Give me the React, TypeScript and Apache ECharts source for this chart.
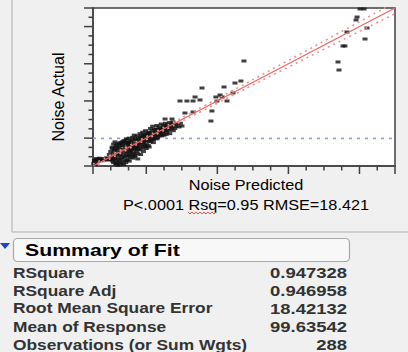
import React, { useEffect, useRef } from "react";
import * as echarts from "echarts";

// ---- axis scale (same for predicted and actual) ----
const axisMin = 62.5;
const axisMax = 275;
const minorTicks = [75, 87.5, 112.5, 125, 137.5, 162.5, 175, 187.5, 212.5, 225, 237.5, 262.5];
const majorTicks = [62.5, 100, 150, 200, 250, 275];

// ---- observations: [predicted, actual] ----
const clusterPoints: number[][] = [
  [63, 66], [64, 64.5], [63.5, 70], [64.5, 71], [65.5, 70.5], [66.5, 71.5], [67.5, 71], [68.5, 72],
  [69.5, 71], [70.5, 72.5], [71.5, 71.5], [72.5, 72], [73.5, 70.5], [74.5, 72], [75.5, 71], [76.5, 73],
  [64, 68.5], [66, 69], [68, 69.5], [70, 70], [72, 73.5], [67, 73], [65, 72.5],
  [74, 78], [75, 82], [75.5, 74], [76, 86], [76.5, 69], [77, 80], [77.5, 76], [78, 84], [78, 72],
  [78.5, 88], [79, 66], [79.5, 79], [80, 74], [80, 83], [80.5, 68], [81, 87], [81.5, 77], [82, 65],
  [82, 81], [82.5, 72], [83, 90], [83.5, 85], [84, 69], [84, 78], [84.5, 74], [85, 82], [85, 88],
  [85.5, 67], [86, 92], [86, 76], [79, 70], [81, 71], [83, 75], [77, 67], [80, 78],
  [76, 88], [77, 92], [78, 95], [79, 90], [80, 92], [81, 93], [82, 94], [83, 95], [84, 96], [85, 97],
  [86, 99], [87, 95], [88, 100], [89, 97], [77.5, 84], [79.5, 86], [81.5, 90], [83.5, 92], [85.5, 94],
  [87.5, 92], [80, 63.5], [82, 67], [84, 64.5], [78.5, 65], [86, 70], [88, 69], [90, 76],
  [86.5, 80], [87, 85], [87, 71], [87.5, 89], [88, 94], [88, 78], [88.5, 74], [89, 83], [89, 91],
  [89.5, 87], [90, 96], [90, 80], [90.5, 73], [91, 88], [91, 84], [91.5, 93], [92, 77], [92, 99],
  [92.5, 86], [93, 90], [93, 82], [93.5, 95], [94, 88], [94, 79], [94.5, 92], [95, 97], [95, 84],
  [95.5, 89], [96, 100], [96, 93], [88, 82], [90, 86], [92, 90], [94, 85], [87, 76], [91, 79],
  [90.5, 101], [91.5, 104], [92.5, 98], [93.5, 103], [94.5, 100], [95.5, 106], [96.5, 103], [97.5, 108],
  [98.5, 105], [99.5, 110], [100.5, 103], [101.5, 107], [92, 75], [94, 72], [96, 78], [98, 82],
  [100, 86], [102, 88],
  [96.5, 86], [97, 95], [97.5, 102], [98, 91], [98, 98], [98.5, 88], [99, 104], [99.5, 96], [100, 92],
  [100, 100], [100.5, 106], [101, 97], [101.5, 90], [102, 103], [102, 108], [102.5, 95], [103, 100],
  [103.5, 106], [104, 98], [104, 110], [104.5, 102], [105, 94], [105, 107], [105.5, 103], [106, 100],
  [106.5, 109], [107, 104], [107, 112], [107.5, 99], [108, 106], [108.5, 110], [109, 103], [109, 108],
  [109.5, 112], [110, 105], [98, 94], [101, 101], [103, 96], [105, 105], [99, 89], [97, 99],
  [103, 113], [104.5, 116], [106, 112], [107.5, 117], [109, 115], [110.5, 119], [112, 117], [113.5, 120],
  [115, 114], [116.5, 121], [118, 119], [105, 98], [108, 101], [111, 103], [114, 105],
  [110.5, 110], [111, 107], [111.5, 113], [112, 109], [112.5, 104], [113, 111], [113.5, 116], [114, 108],
  [114.5, 112], [115, 118], [115.5, 110], [116, 114], [116.5, 106], [117, 117], [117.5, 112], [118, 115],
  [119, 110], [119.5, 118], [120, 113], [121, 116], [122, 119], [123, 115], [124, 120]
];

const spreadPoints: number[][] = [
  [250.4, 273.7], [253.2, 273.7], [248.3, 262.9], [247.6, 258.9], [241.2, 242.7], [255.3, 248.1],
  [253.9, 233.3], [239.8, 223.9], [238.4, 223.9], [234.9, 202.4], [235.6, 191.6],
  [168.7, 203.7], [166.6, 176.8], [162.4, 174.1], [161.0, 160.7], [154.7, 168.8], [151.9, 158.0],
  [153.3, 155.3], [149.0, 155.3], [149.7, 149.9], [156.8, 149.9], [139.2, 167.4], [134.3, 155.3],
  [137.8, 151.3], [132.9, 149.9], [128.6, 149.9], [123.7, 149.9], [127.2, 133.8], [132.9, 135.1],
  [146.2, 136.5], [145.5, 123.0], [125.1, 116.3], [113.2, 125.7], [118.1, 125.7], [118.8, 121.7],
  [114.6, 114.9], [111.8, 113.6], [109.6, 112.3]
];

// ---- fit, confidence band and mean ----
const fitLine: number[][] = [[62.5, 62.5], [275, 275]];
const bandX = [62.5, 100, 150, 200, 250, 275];
const bandHalfWidth = [2.5, 2, 3, 4.5, 6.5, 7.5];
const meanResponse = 99.63542;

// ---- texts ----
const xTitle = "Noise Predicted";
const yTitle = "Noise Actual";
const fitCaption = "P<.0001 Rsq=0.95 RMSE=18.421";
const summaryTitle = "Summary of Fit";
const summaryLabels = ["RSquare", "RSquare Adj", "Root Mean Square Error", "Mean of Response", "Observations (or Sum Wgts)"];
const summaryValues = ["0.947328", "0.946958", "18.42132", "99.63542", "288"];

const FONT = "'Liberation Sans', Arial, sans-serif";
const AXIS_COLOR = "#404040";

export default function App() {
  const ref = useRef<HTMLDivElement>(null);

  useEffect(() => {
    if (!ref.current) return;
    const chart = echarts.init(ref.current, undefined, { renderer: "svg" });

    const upperBand = bandX.map((x, i) => [x, x + bandHalfWidth[i]]);
    const lowerBand = bandX.map((x, i) => [x, x - bandHalfWidth[i]]);
    const meanLine = [[axisMin, meanResponse], [axisMax, meanResponse]];
    const tickData = [
      ...minorTicks.map((v) => [v, 0]),
      ...majorTicks.map((v) => [v, 1]),
    ];

    const rowY = [273, 291, 308.5, 327, 345];

    const graphics: any[] = [
      { type: "line", shape: { x1: 12, y1: 0, x2: 12, y2: 232 }, style: { stroke: "#c4c4c4", lineWidth: 1.5 }, silent: true },
      { type: "line", shape: { x1: 12, y1: 232, x2: 408, y2: 232 }, style: { stroke: "#c4c4c4", lineWidth: 1.5 }, silent: true },
      {
        type: "text", x: 58, y: 97, rotation: Math.PI / 2,
        style: { text: yTitle, fontSize: 16, fontFamily: FONT, fill: "#000", align: "center", verticalAlign: "middle", textAlign: "center", textVerticalAlign: "middle" },
      },
      {
        type: "text", x: 246, y: 185, scaleX: 1.16,
        style: { text: xTitle, fontSize: 14, fontFamily: FONT, fill: "#000", align: "center", verticalAlign: "middle", textAlign: "center", textVerticalAlign: "middle" },
      },
      {
        type: "text", x: 246, y: 205, scaleX: 1.16,
        style: { text: fitCaption, fontSize: 14, fontFamily: FONT, fill: "#000", align: "center", verticalAlign: "middle", textAlign: "center", textVerticalAlign: "middle" },
      },
      {
        type: "polyline",
        shape: { points: [[188, 212], [190, 214], [192, 212], [194, 214], [196, 212], [198, 214], [200, 212], [202, 214], [204, 212], [206, 214], [208, 212], [210, 214], [212, 212], [214, 214], [216, 212]] },
        style: { stroke: "#e03030", lineWidth: 0.8, fill: null },
      },
      { type: "polygon", shape: { points: [[0, 243], [10, 243], [5, 249]] }, style: { fill: "#1c3fd8" } },
      { type: "rect", shape: { x: 13.5, y: 238.5, width: 336, height: 23, r: 4 }, style: { fill: "#f8f8f8", stroke: "#a8a8a8", lineWidth: 1.2 } },
      {
        type: "text", x: 25, y: 250, scaleX: 1.33,
        style: { text: summaryTitle, fontSize: 16, fontWeight: "bold", fontFamily: FONT, fill: "#000", align: "left", verticalAlign: "middle", textAlign: "left", textVerticalAlign: "middle" },
      },
    ];
    summaryLabels.forEach((label, i) => {
      graphics.push({
        type: "text", x: 13, y: rowY[i], scaleX: 1.24,
        style: { text: label, fontSize: 14, fontWeight: "bold", fontFamily: FONT, fill: "#333", align: "left", verticalAlign: "middle", textAlign: "left", textVerticalAlign: "middle" },
      });
      graphics.push({
        type: "text", x: 347, y: rowY[i], scaleX: 1.32,
        style: { text: summaryValues[i], fontSize: 14, fontWeight: "bold", fontFamily: FONT, fill: "#333", align: "right", verticalAlign: "middle", textAlign: "right", textVerticalAlign: "middle" },
      });
    });

    const axisCommon = {
      type: "value" as const,
      min: axisMin,
      max: axisMax,
      axisLabel: { show: false },
      axisTick: { show: false },
      splitLine: { show: false },
      axisLine: { show: true, onZero: false, lineStyle: { color: AXIS_COLOR, width: 1.5 } },
    };

    chart.setOption({
      animation: false,
      backgroundColor: "#f0f0f0",
      grid: {
        left: 93, top: 8, width: 302, height: 158,
        show: true, backgroundColor: "#ffffff", borderColor: AXIS_COLOR, borderWidth: 1.5,
      },
      xAxis: { ...axisCommon, position: "bottom" },
      yAxis: { ...axisCommon, position: "left" },
      graphic: graphics,
      series: [
        {
          type: "custom",
          data: tickData,
          clip: false,
          silent: true,
          z: 5,
          renderItem: (params: any, api: any) => {
            const v = api.value(0);
            const isMajor = api.value(1) === 1;
            const bottom = api.coord([v, axisMin]);
            const left = api.coord([axisMin, v]);
            const lenX = isMajor ? 8 : 4.5;
            const lenY = isMajor ? 9 : 4.5;
            const style = { stroke: AXIS_COLOR, lineWidth: 1.5 };
            return {
              type: "group",
              children: [
                { type: "line", shape: { x1: bottom[0], y1: bottom[1], x2: bottom[0], y2: bottom[1] + lenX }, style },
                { type: "line", shape: { x1: left[0], y1: left[1], x2: left[0] - lenY, y2: left[1] }, style },
              ],
            };
          },
        },
        {
          type: "line", data: meanLine, showSymbol: false, symbol: "none", silent: true, z: 1,
          lineStyle: { color: "#8ea2ec", width: 1.6, type: [3, 5] },
        },
        {
          type: "scatter", data: clusterPoints, symbol: "rect", symbolSize: [5, 3], z: 2,
          itemStyle: { color: "#111" }, silent: true,
        },
        {
          type: "scatter", data: spreadPoints, symbol: "rect", symbolSize: [5, 3], z: 2,
          itemStyle: { color: "#111" }, silent: true,
        },
        {
          type: "line", data: upperBand, smooth: true, showSymbol: false, symbol: "none", silent: true, z: 3,
          lineStyle: { color: "#f09090", width: 1.6, type: [2, 4] },
        },
        {
          type: "line", data: lowerBand, smooth: true, showSymbol: false, symbol: "none", silent: true, z: 3,
          lineStyle: { color: "#f09090", width: 1.6, type: [2, 4] },
        },
        {
          type: "line", data: fitLine, showSymbol: false, symbol: "none", silent: true, z: 4,
          lineStyle: { color: "#e86a6a", width: 1.4 },
        },
      ],
    });

    return () => chart.dispose();
  }, []);

  return <div ref={ref} style={{ position: "fixed", left: 0, top: 0, width: 408, height: 352 }} />;
}
